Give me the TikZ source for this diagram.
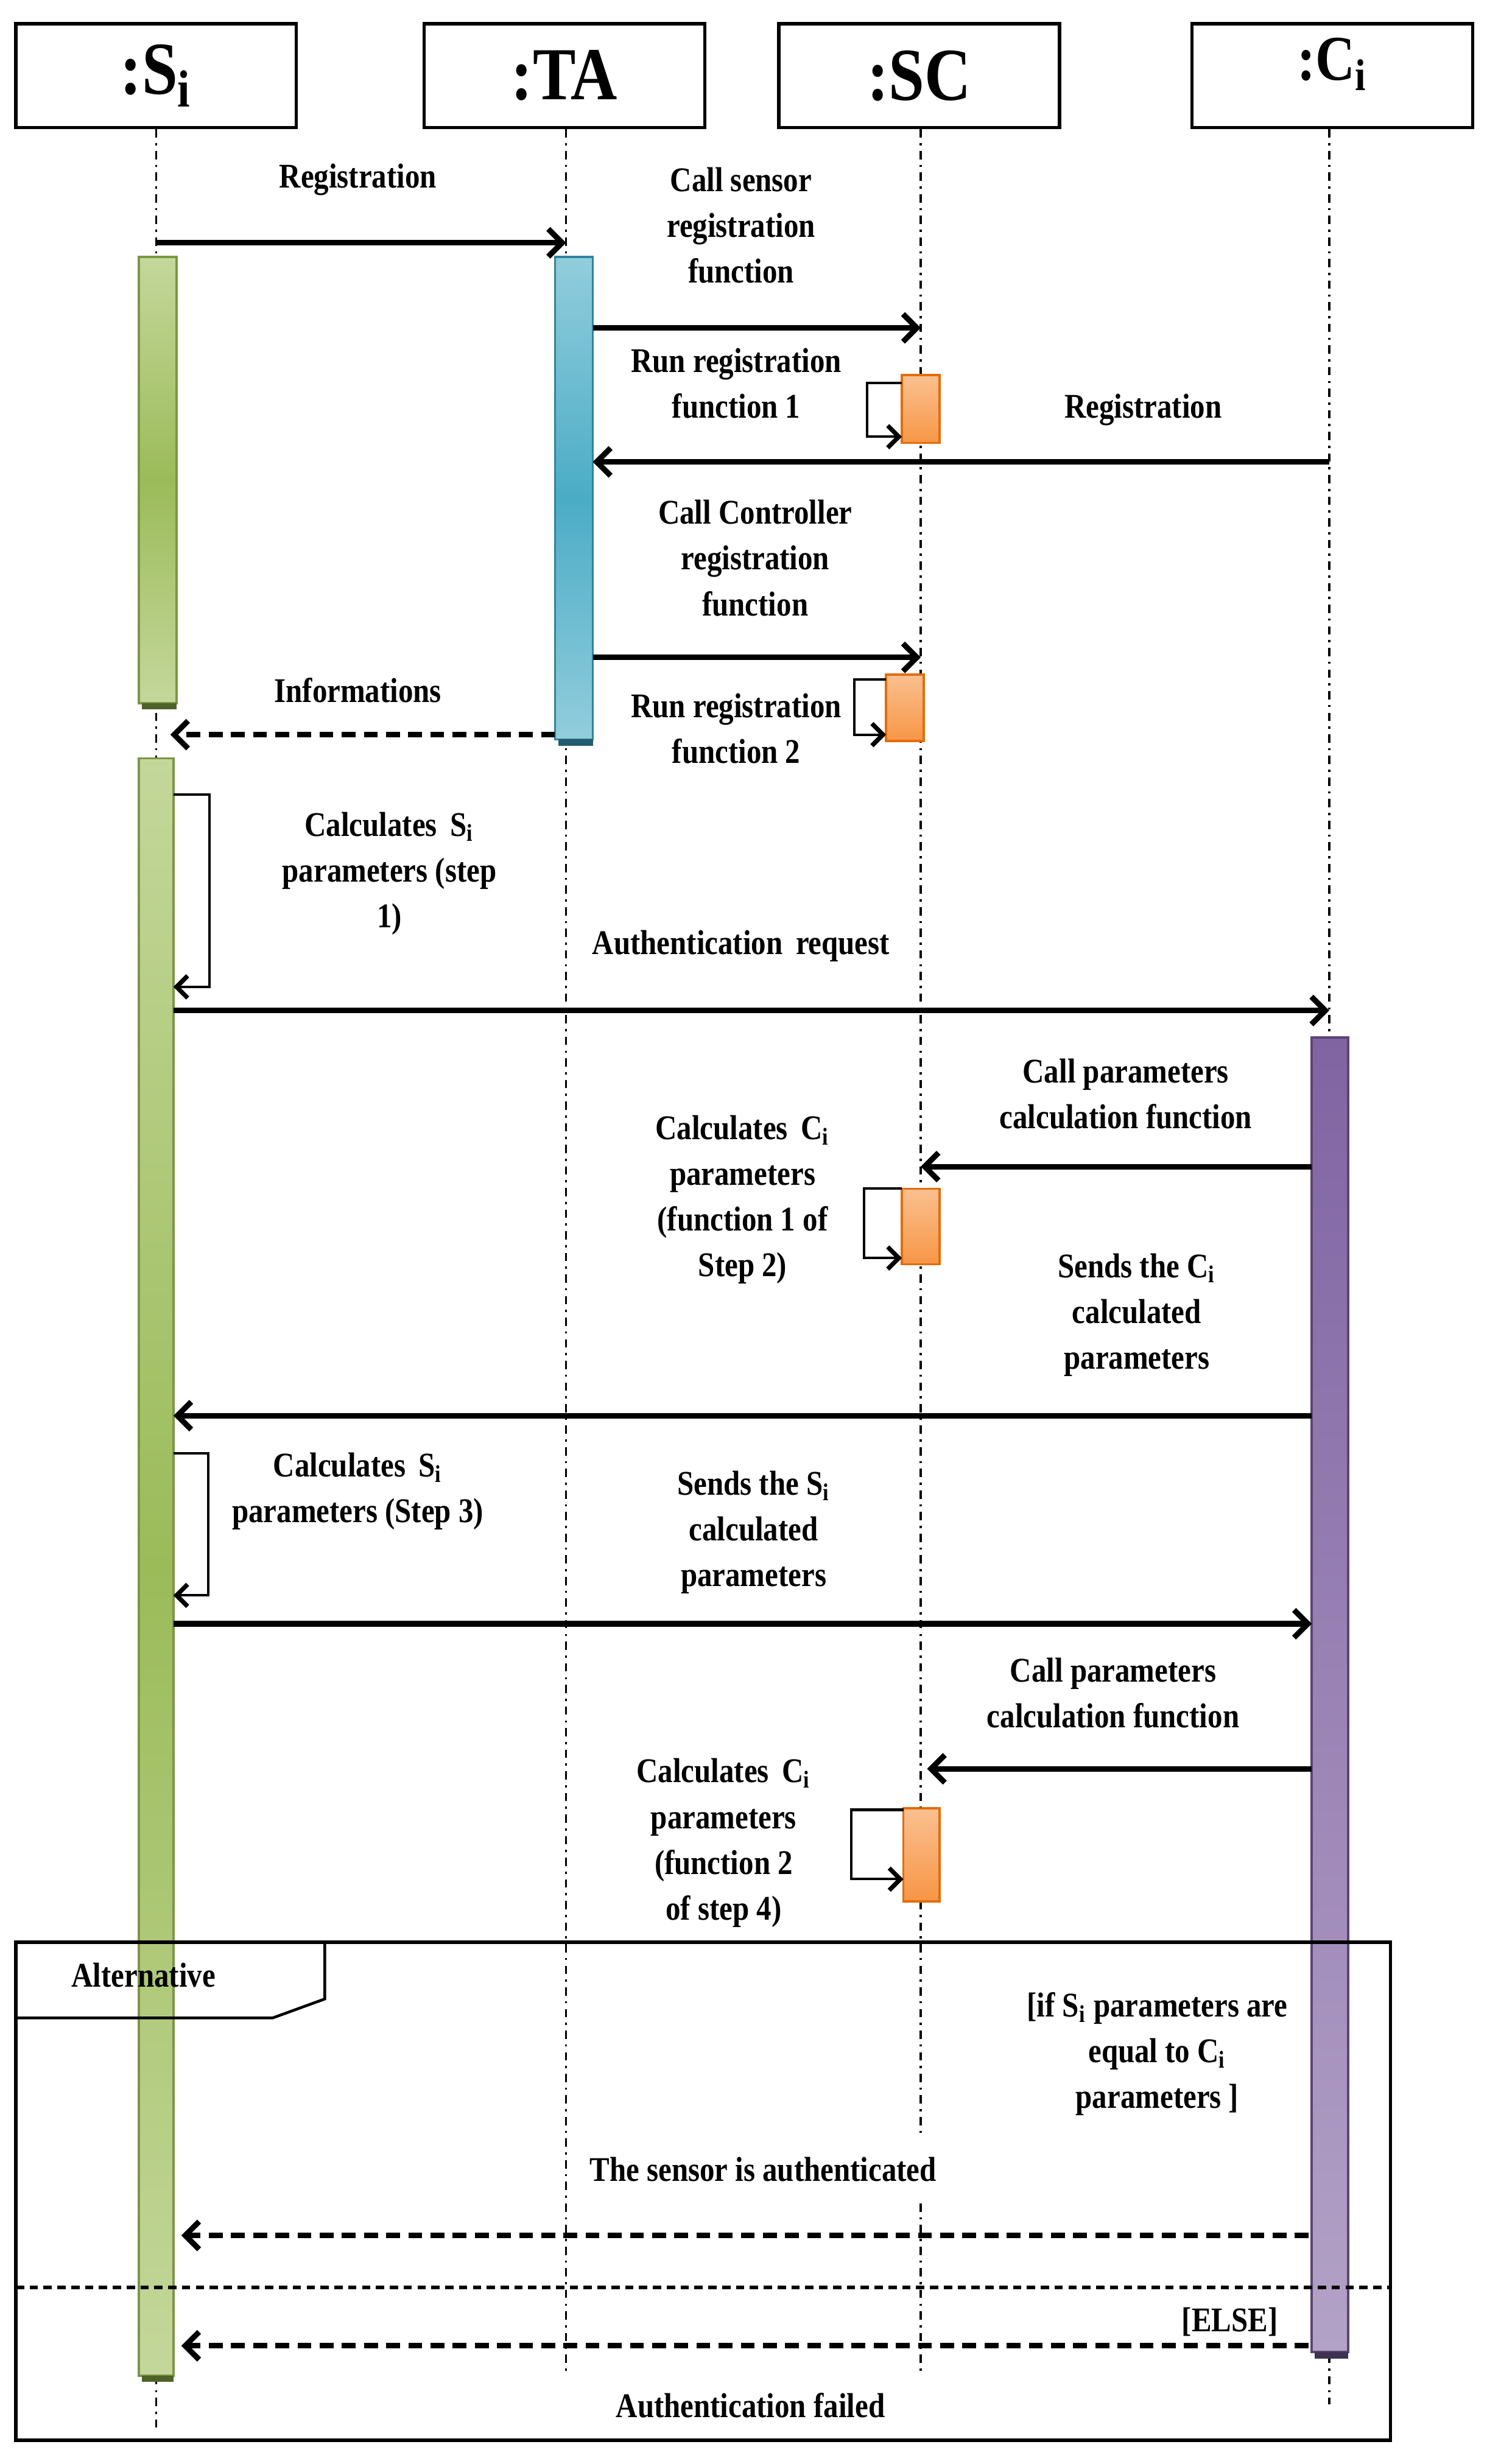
\documentclass[tikz,border=0pt]{standalone}
\usepackage{fontspec}
\setmainfont{Liberation Serif}[FakeStretch=0.86]
\usetikzlibrary{arrows.meta}
\definecolor{gL}{HTML}{C4D79B}\definecolor{gM}{HTML}{9BBB59}\definecolor{gD}{HTML}{4F6228}
\definecolor{bL}{HTML}{92CDDC}\definecolor{bM}{HTML}{4BACC6}\definecolor{bD}{HTML}{31859C}
\definecolor{pL}{HTML}{B3A2C7}\definecolor{pM}{HTML}{8064A2}\definecolor{pD}{HTML}{3F3151}
\definecolor{oL}{HTML}{FAC090}\definecolor{oM}{HTML}{F79646}\definecolor{oD}{HTML}{E46C0A}
\begin{document}
\begin{tikzpicture}[x=0.02cm,y=-0.02cm,
  head/.style={draw,line width=1.2pt,minimum width=3.56cm,minimum height=1.32cm,font=\bfseries\fontsize{27}{30}\selectfont},
  life/.style={line width=0.8pt,dash dot},
  msg/.style={line width=2pt,-{Straight Barb[length=5pt,width=10pt,line width=2pt]}},
  rmsg/.style={msg,dash pattern=on 5pt off 3pt},
  self/.style={line width=0.9pt,-{Straight Barb[length=4pt,width=8pt,line width=1.6pt]}},
  lbl/.style={align=center,font=\bfseries\fontsize{12.5}{16.5}\selectfont},
  green/.style={draw=gM!80!black,line width=0.8pt,top color=gL,bottom color=gL,middle color=gM},
  blue/.style={draw=bD,line width=0.8pt,top color=bL,bottom color=bL,middle color=bM},
  orange/.style={draw=oD,line width=0.8pt,top color=oL,bottom color=oM},
  purple/.style={draw=pM!70!black,line width=0.8pt,top color=pM,bottom color=pL}]
\useasboundingbox (0,0) rectangle (943,1563);
% heads
\node[head] (S) at (99,48) {:S\textsubscript{i}};
\node[head] (T) at (358,48) {:TA};
\node[head] (C) at (583,48) {:SC};
\node[head,font=\bfseries\fontsize{23}{26}\selectfont,text depth=12pt] (K) at (845,48) {:C\textsubscript{i}};
% lifelines
\coordinate (Se) at (99,1540); \coordinate (Te) at (359,1505);
\coordinate (Ce) at (584,1505); \coordinate (Ke) at (843,1525);
\draw[life] (S.south-|99,0) -- (Se);
\draw[life] (T.south-|359,0) -- (Te);
\draw[life] (C.south-|584,0) -- (Ce);
\draw[life] (K.south-|843,0) -- (Ke);
% activations
\filldraw[green] (88,163) rectangle (112,446);
\fill[gD] (90,446) rectangle (112,450);
\filldraw[green] (88,481) rectangle (110,1507);
\fill[gD] (90,1507) rectangle (110,1511);
\filldraw[blue] (352,163) rectangle (376,469);
\fill[bD!70!black] (354,469) rectangle (376,473);
\filldraw[orange] (572,238) rectangle (596,281);
\filldraw[orange] (562,428) rectangle (586,470);
\filldraw[orange] (572,754) rectangle (596,802);
\filldraw[orange] (573,1147) rectangle (596,1206);
\filldraw[purple] (832,658) rectangle (855,1492);
\fill[pD] (834,1492) rectangle (855,1496);
% coordinates
\foreach \n/\x/\y in {a1/99/154,b1/359/154,a2/376/208,b2/584/208,a4/843/293,b4/376/293,
  a5/376/417,b5/584/417,a7/352/466,b7/108/466,a9/110/641,b9/843/641,a10/832/740,b10/584/740,
  a12/832/898,b12/110/898,a14/110/1030,b14/832/1030,a15/832/1122,b15/588/1122,
  a17/830/1418,b17/115/1418,a18/830/1488,b18/115/1488,
  l1/572/243,l1e/572/277,l2/562/431,l2e/562/466,l3/110/504,l3e/110/626,l4/572/754,l4e/572/798,
  l5/110/922,l5e/110/1012,l6/573/1148,l6e/573/1192}
  \coordinate (\n) at (\x,\y);
\draw[msg] (a1) -- (b1);
\draw[msg] (a2) -- (b2);
\draw[msg] (a4) -- (b4);
\draw[msg] (a5) -- (b5);
\draw[rmsg] (a7) -- (b7);
\draw[msg] (a9) -- (b9);
\draw[msg] (a10) -- (b10);
\draw[msg] (a12) -- (b12);
\draw[msg] (a14) -- (b14);
\draw[msg] (a15) -- (b15);
\draw[rmsg] (a17) -- (b17);
\draw[rmsg] (a18) -- (b18);
\draw[self] (l1) -- ++(-22,0) |- (l1e);
\draw[self] (l2) -- ++(-20,0) |- (l2e);
\draw[self] (l3) -- ++(23,0) |- (l3e);
\draw[self] (l4) -- ++(-24,0) |- (l4e);
\draw[self] (l5) -- ++(22,0) |- (l5e);
\draw[self] (l6) -- ++(-33,0) |- (l6e);
% labels
\node[lbl] (t1) at (227,114) {Registration};
\node[lbl] (t2) at (470,143) {Call sensor\\registration\\function};
\node[lbl] (t3) at (467,243) {Run registration\\function 1};
\node[lbl] (t4) at (725,260) {Registration};
\node[lbl] (t5) at (479,354) {Call Controller\\registration\\function};
\node[lbl] (t6) at (467,462) {Run registration\\function 2};
\node[lbl] (t7) at (227,438) {Informations};
\node[lbl] (t8) at (247,554) {Calculates\, S\textsubscript{i}\\parameters (step\\1)};
\node[lbl] (t9) at (470,600) {Authentication\, request};
\node[lbl] (t10) at (714,694) {Call parameters\\calculation function};
\node[lbl] (t11) at (471,761) {Calculates\, C\textsubscript{i}\\parameters\\(function 1 of\\Step 2)};
\node[lbl] (t12) at (721,834) {Sends the C\textsubscript{i}\\calculated\\parameters};
\node[lbl] (t13) at (227,946) {Calculates\, S\textsubscript{i}\\parameters (Step 3)};
\node[lbl] (t14) at (478,972) {Sends the S\textsubscript{i}\\calculated\\parameters};
\node[lbl] (t15) at (706,1074) {Call parameters\\calculation function};
\node[lbl] (t16) at (459,1169) {Calculates\, C\textsubscript{i}\\parameters\\(function 2\\of step 4)};
% alternative frame
\draw[line width=1.2pt] (10,1232) rectangle (882,1548);
\draw[line width=1pt] (10,1280) -- (173,1280) -- (206,1268) -- (206,1232);
\node[lbl] (alt) at (91,1253) {Alternative};
\node[lbl] (g1) at (734,1303) {[if S\textsubscript{i} parameters are\\equal to C\textsubscript{i}\\parameters ]};
\node[lbl,fill=white,inner ysep=8pt] (t17) at (484,1376) {The sensor is authenticated};
\draw[line width=1.2pt,dash pattern=on 3pt off 2pt] (10,1451) -- (882,1451);
\node[lbl] (g2) at (780,1473) {[ELSE]};
\node[lbl] (t18) at (476,1526) {Authentication failed};
\end{tikzpicture}
\end{document}
